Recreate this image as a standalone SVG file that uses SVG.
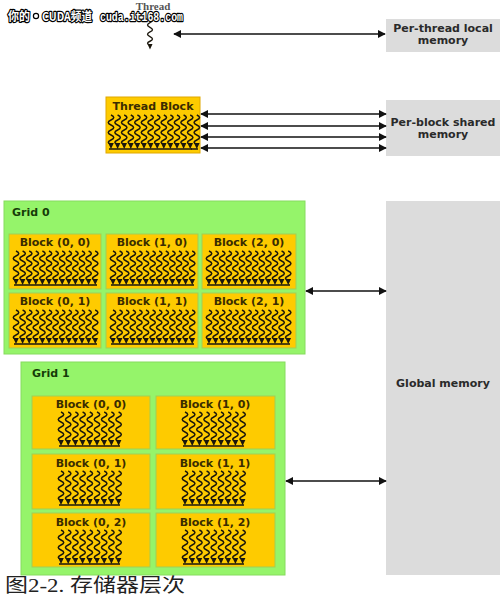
<svg xmlns="http://www.w3.org/2000/svg" xmlns:xlink="http://www.w3.org/1999/xlink" width="500" height="600" viewBox="0 0 500 600">
<style>
.mem{fill:#dcdcdc}
.grid{fill:#95f46a;stroke:#86dc5e;stroke-width:1}
.blk{fill:#fecb00;stroke:#9fcf57;stroke-width:1}
.lbl{font-family:"DejaVu Sans",sans-serif;font-weight:bold;font-size:11px;fill:#3a2c00}
.glbl{font-family:"DejaVu Sans",sans-serif;font-weight:bold;font-size:11px;fill:#163c08}
.mtxt{font-family:"DejaVu Sans",sans-serif;font-weight:bold;font-size:11px;fill:#2a2a2a;text-anchor:middle}
.conn{stroke:#111;stroke-width:1.6;fill:none}
.thr{stroke:#1a160c;stroke-width:1.5;fill:none}
.wm{font-weight:bold;font-size:12px;fill:#fff;stroke:#000;stroke-width:2.4;paint-order:stroke;stroke-linejoin:round}
</style>
<defs>
<marker id="ah" viewBox="0 0 10 10" refX="9" refY="5" markerWidth="5" markerHeight="5" orient="auto-start-reverse" markerUnits="strokeWidth">
<path d="M0,0 L10,5 L0,10 z" fill="#111"/>
</marker>
<g id="t">
<path class="thr" d="M0,0 q5.5,2.5 0,5 t0,5 t0,5 t0,5 t0,5 t0,4"/>
<path d="M-2.8,28 L2.8,28 L0,34 z" fill="#1a160c"/>
</g>
<g id="r13">
<use xlink:href="#t" x="0"/><use xlink:href="#t" x="6.6"/><use xlink:href="#t" x="13.2"/><use xlink:href="#t" x="19.8"/><use xlink:href="#t" x="26.4"/><use xlink:href="#t" x="33"/><use xlink:href="#t" x="39.6"/><use xlink:href="#t" x="46.2"/><use xlink:href="#t" x="52.8"/><use xlink:href="#t" x="59.4"/><use xlink:href="#t" x="66"/><use xlink:href="#t" x="72.6"/><use xlink:href="#t" x="79.2"/>
<path class="thr" d="M-2,34 H81"/>
</g>
<g id="r14">
<use xlink:href="#r13"/><use xlink:href="#t" x="85.8"/>
<path class="thr" d="M80,34 H87"/>
</g>
<g id="r9">
<use xlink:href="#t" x="0"/><use xlink:href="#t" x="7.2"/><use xlink:href="#t" x="14.4"/><use xlink:href="#t" x="21.6"/><use xlink:href="#t" x="28.8"/><use xlink:href="#t" x="36"/><use xlink:href="#t" x="43.2"/><use xlink:href="#t" x="50.4"/><use xlink:href="#t" x="57.6"/>
<path class="thr" d="M-2,34 H59"/>
</g>
</defs>
<rect width="500" height="600" fill="#fff"/>

<g id="per-thread-local-memory">
<rect class="mem" x="386" y="19" width="114" height="33"/>
<text class="mtxt" x="443" y="32">Per-thread local</text>
<text class="mtxt" x="443" y="44">memory</text>
</g>
<g id="per-block-shared-memory">
<rect class="mem" x="386" y="100" width="114" height="56"/>
<text class="mtxt" x="443" y="126">Per-block shared</text>
<text class="mtxt" x="443" y="138">memory</text>
</g>
<g id="global-memory">
<rect class="mem" x="386" y="201" width="114" height="374"/>
<text class="mtxt" x="443" y="387">Global memory</text>
</g>

<g id="thread">
<text x="153" y="10" text-anchor="middle" font-family="Liberation Serif,serif" font-weight="bold" font-size="11" fill="#555">Thread</text>
<use xlink:href="#t" transform="translate(150,18) scale(0.9,0.93)"/>
</g>

<g id="thread-block">
<rect x="106" y="97" width="94" height="56" fill="#fecb00" stroke="#e0a800"/>
<text class="lbl" x="153" y="110" text-anchor="middle">Thread Block</text>
<use xlink:href="#r14" x="111" y="115"/>
</g>

<g id="grid0">
<rect class="grid" x="4" y="201" width="301" height="153"/>
<text class="glbl" x="12" y="216">Grid 0</text>
<g id="g0-b00"><rect class="blk" x="9" y="234" width="92" height="55"/><text class="lbl" x="55" y="246" text-anchor="middle">Block (0, 0)</text><use xlink:href="#r13" x="16" y="251"/></g>
<g id="g0-b10"><rect class="blk" x="106" y="234" width="92" height="55"/><text class="lbl" x="152" y="246" text-anchor="middle">Block (1, 0)</text><use xlink:href="#r13" x="113" y="251"/></g>
<g id="g0-b20"><rect class="blk" x="202" y="234" width="94" height="55"/><text class="lbl" x="249" y="246" text-anchor="middle">Block (2, 0)</text><use xlink:href="#r13" x="209" y="251"/></g>
<g id="g0-b01"><rect class="blk" x="9" y="293" width="92" height="55"/><text class="lbl" x="55" y="305" text-anchor="middle">Block (0, 1)</text><use xlink:href="#r13" x="16" y="310"/></g>
<g id="g0-b11"><rect class="blk" x="106" y="293" width="92" height="55"/><text class="lbl" x="152" y="305" text-anchor="middle">Block (1, 1)</text><use xlink:href="#r13" x="113" y="310"/></g>
<g id="g0-b21"><rect class="blk" x="202" y="293" width="94" height="55"/><text class="lbl" x="249" y="305" text-anchor="middle">Block (2, 1)</text><use xlink:href="#r13" x="209" y="310"/></g>
</g>

<g id="grid1">
<rect class="grid" x="21" y="362" width="264" height="213"/>
<text class="glbl" x="32" y="377">Grid 1</text>
<g id="g1-b00"><rect class="blk" x="32" y="396" width="118" height="53"/><text class="lbl" x="91" y="408" text-anchor="middle">Block (0, 0)</text><use xlink:href="#r9" x="61" y="412"/></g>
<g id="g1-b10"><rect class="blk" x="156" y="396" width="119" height="53"/><text class="lbl" x="215" y="408" text-anchor="middle">Block (1, 0)</text><use xlink:href="#r9" x="185" y="412"/></g>
<g id="g1-b01"><rect class="blk" x="32" y="454" width="118" height="55"/><text class="lbl" x="91" y="467" text-anchor="middle">Block (0, 1)</text><use xlink:href="#r9" x="61" y="471"/></g>
<g id="g1-b11"><rect class="blk" x="156" y="454" width="119" height="55"/><text class="lbl" x="215" y="467" text-anchor="middle">Block (1, 1)</text><use xlink:href="#r9" x="185" y="471"/></g>
<g id="g1-b02"><rect class="blk" x="32" y="513" width="118" height="54"/><text class="lbl" x="91" y="526" text-anchor="middle">Block (0, 2)</text><use xlink:href="#r9" x="61" y="530"/></g>
<g id="g1-b12"><rect class="blk" x="156" y="513" width="119" height="54"/><text class="lbl" x="215" y="526" text-anchor="middle">Block (1, 2)</text><use xlink:href="#r9" x="185" y="530"/></g>
</g>

<g id="connectors">
<line class="conn" x1="174" y1="34" x2="385" y2="34" marker-start="url(#ah)" marker-end="url(#ah)"/>
<line class="conn" x1="201" y1="114" x2="386" y2="114" marker-start="url(#ah)" marker-end="url(#ah)"/>
<line class="conn" x1="201" y1="126" x2="386" y2="126" marker-start="url(#ah)" marker-end="url(#ah)"/>
<line class="conn" x1="201" y1="137" x2="386" y2="137" marker-start="url(#ah)" marker-end="url(#ah)"/>
<line class="conn" x1="201" y1="148" x2="386" y2="148" marker-start="url(#ah)" marker-end="url(#ah)"/>
<line class="conn" x1="306" y1="291" x2="386" y2="291" marker-start="url(#ah)" marker-end="url(#ah)"/>
<line class="conn" x1="286" y1="481" x2="386" y2="481" marker-start="url(#ah)" marker-end="url(#ah)"/>
</g>

<g id="watermark" font-family="Noto Sans CJK SC,sans-serif">
<text class="wm" x="8" y="21" textLength="22" lengthAdjust="spacingAndGlyphs">你的</text>
<circle cx="36" cy="16" r="2.6" fill="#fff" stroke="#000" stroke-width="1.2"/>
<text class="wm" x="42" y="21" textLength="50" lengthAdjust="spacingAndGlyphs">CUDA频道</text>
<text class="wm" x="100" y="21" font-family="Liberation Mono,monospace" textLength="83" lengthAdjust="spacingAndGlyphs">cuda.it168.com</text>
</g>

<text x="5" y="592" font-family="Liberation Serif,Noto Sans CJK SC,serif" font-size="19" fill="#222" textLength="180" lengthAdjust="spacingAndGlyphs">图2-2. 存储器层次</text>
</svg>
